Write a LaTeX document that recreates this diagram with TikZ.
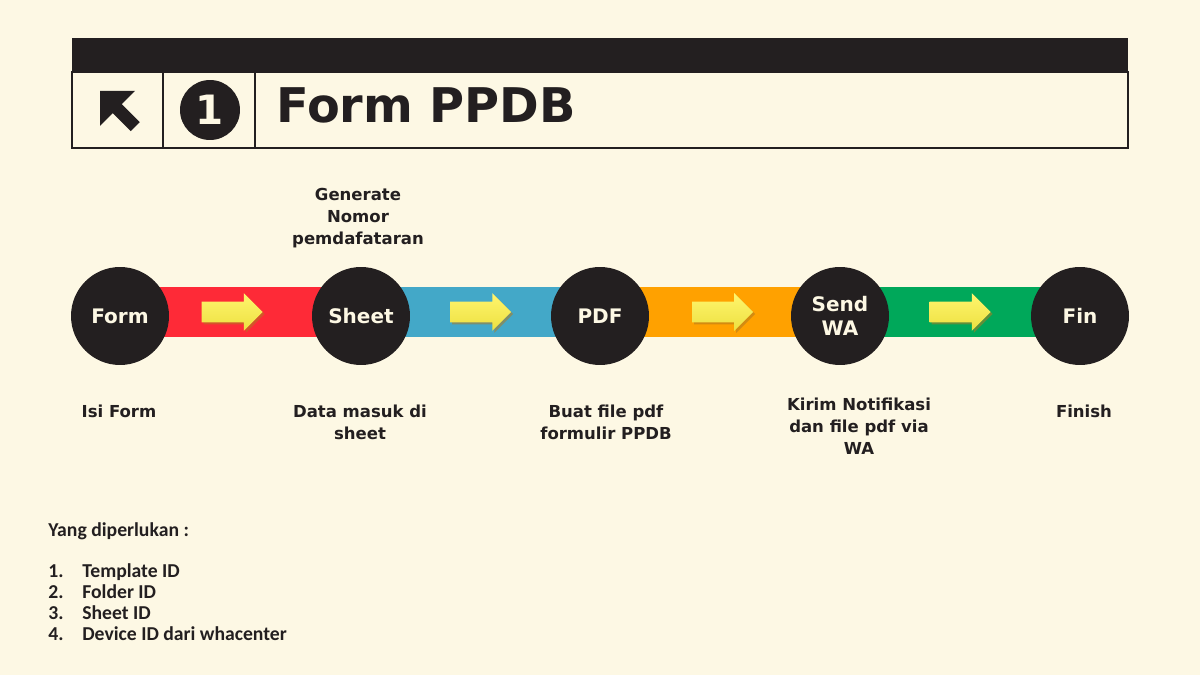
\documentclass[tikz,border=0pt]{standalone}
\usepackage{fontspec}
\setmainfont{DejaVu Sans}
\newfontfamily\listfont{Carlito}
\usetikzlibrary{shapes.arrows,shadows,backgrounds}
\definecolor{bgc}{HTML}{FDF8E4}
\definecolor{ink}{HTML}{231F20}
\definecolor{bred}{HTML}{FE2A37}
\definecolor{bblue}{HTML}{43A8C8}
\definecolor{borange}{HTML}{FFA100}
\definecolor{bgreen}{HTML}{00A85A}
\definecolor{ylight}{HTML}{FFF56E}
\definecolor{ydark}{HTML}{EDE040}
\definecolor{yshadow}{HTML}{B07A20}
\begin{document}
\begin{tikzpicture}[x=0.02cm,y=-0.02cm,
  stepnode/.style={circle,fill=ink,text=bgc,minimum size=1.96cm,inner sep=0pt,
    font=\bfseries\fontsize{11.4pt}{14pt}\selectfont,align=center},
  band/.style={line width=1cm},
  yarrow/.style={single arrow,minimum height=1.22cm,minimum width=0.74cm,
    single arrow head extend=0.17cm,inner xsep=0pt,inner ysep=0.2cm,draw=none,
    text height=0pt,text depth=0pt,xshift=-0.1cm,
    top color=ylight,bottom color=ydark,
    drop shadow={shadow xshift=0.04cm,shadow yshift=-0.04cm,fill=yshadow,opacity=0.55}},
  lbl/.style={font=\bfseries\fontsize{9.4pt}{12.5pt}\selectfont,align=center,
    inner sep=0pt,anchor=north,text=ink},
  lst/.style={font=\listfont\bfseries\fontsize{11.2pt}{12pt}\selectfont,
    anchor=base west,inner sep=0pt,text=ink}]
\useasboundingbox (0,0) rectangle (1200,675);

% header
\fill[ink] (72,38) rectangle (1128,72);
\draw[ink,line width=1.1pt] (72,72) rectangle (1128,148);
\draw[ink,line width=1.1pt] (163,72) -- (163,148);
\draw[ink,line width=1.1pt] (255,72) -- (255,148);
\fill[ink] (100,91) -- (135,91) -- (121.75,104.25) -- (139.75,122.25)
  -- (130.75,131.25) -- (112.75,113.25) -- (100,126) -- cycle;
\node[circle,fill=ink,text=bgc,minimum size=1.2cm,inner sep=0pt,
  font=\bfseries\fontsize{23pt}{26pt}\selectfont] (num) at (210,110) {1};
\node[anchor=base west,inner sep=0pt,text=ink,
  font=\bfseries\fontsize{27.2pt}{30pt}\selectfont] (title) at (276,123) {Form PPDB};

% steps
\node[stepnode] (form)  at (120,316) {Form};
\node[stepnode] (sheet) at (361,316) {Sheet};
\node[stepnode] (pdf)   at (600,316) {PDF};
\node[stepnode] (wa)    at (840,316) {Send\\WA};
\node[stepnode] (fin)   at (1080,316) {Fin};

\begin{scope}[on background layer]
  \fill[bgc] (0,0) rectangle (1200,675);
  \draw[band,bred]    ([yshift=0.08cm]form.center)  -- ([yshift=0.08cm]sheet.center);
  \draw[band,bblue]   ([yshift=0.08cm]sheet.center) -- ([yshift=0.08cm]pdf.center);
  \draw[band,borange] ([yshift=0.08cm]pdf.center)   -- ([yshift=0.08cm]wa.center);
  \draw[band,bgreen]  ([yshift=0.08cm]wa.center)    -- ([yshift=0.08cm]fin.center);
\end{scope}

\path ([yshift=0.08cm]form.center)  -- ([yshift=0.08cm]sheet.center) node[yarrow,pos=0.465] (a1) {};
\path ([yshift=0.08cm]sheet.center) -- ([yshift=0.08cm]pdf.center)   node[yarrow,pos=0.5] (a2) {};
\path ([yshift=0.08cm]pdf.center)   -- ([yshift=0.08cm]wa.center)    node[yarrow,pos=0.51] (a3) {};
\path ([yshift=0.08cm]wa.center)    -- ([yshift=0.08cm]fin.center)   node[yarrow,pos=0.5] (a4) {};

% labels
\node[lbl] (lgen)   at (358,188) {Generate\\Nomor\\pemdafataran};
\node[lbl] (lform)  at (119,405) {Isi Form};
\node[lbl] (lsheet) at (360,405) {Data masuk di\\sheet};
\node[lbl] (lpdf)   at (606,405) {Buat file pdf\\formulir PPDB};
\node[lbl] (lwa)    at (859,398) {Kirim Notifikasi\\dan file pdf via\\WA};
\node[lbl] (lfin)   at (1084,405) {Finish};

% list
\node[lst] (req) at (48,536) {Yang diperlukan :};
\node[lst] (i1) at (48,577) {\makebox[0.68cm][l]{1.}Template ID};
\node[lst] (i2) at (48,598) {\makebox[0.68cm][l]{2.}Folder ID};
\node[lst] (i3) at (48,619) {\makebox[0.68cm][l]{3.}Sheet ID};
\node[lst] (i4) at (48,640) {\makebox[0.68cm][l]{4.}Device ID dari whacenter};
\end{tikzpicture}
\end{document}
